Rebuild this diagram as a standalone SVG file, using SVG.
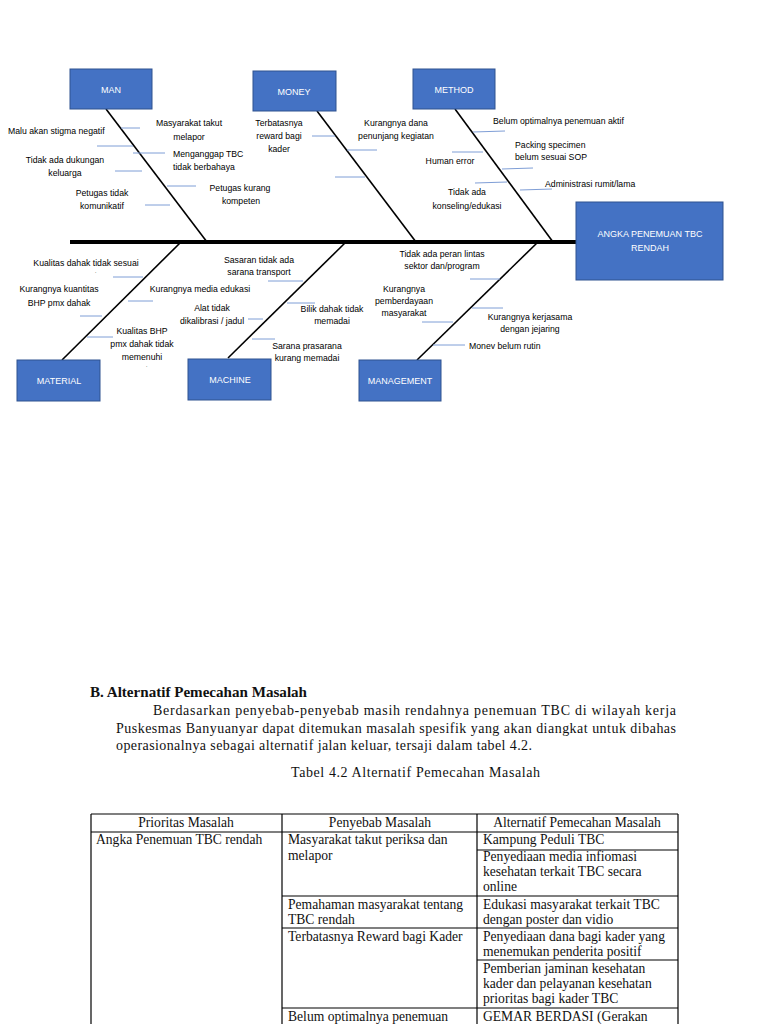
<svg xmlns="http://www.w3.org/2000/svg" width="768" height="1024" viewBox="0 0 768 1024">
<style>
.box{fill:#4472C4;stroke:#2F528F;stroke-width:1}
.bl{font-family:"Liberation Sans",Arial,sans-serif;font-size:9px;fill:#fff;text-anchor:middle}
.c{font-family:"Liberation Sans",Arial,sans-serif;font-size:8.7px;fill:#000}
.m{text-anchor:middle}
.bone{stroke:#000;stroke-width:1.6;fill:none}
.sub{stroke:#7F9ED6;stroke-width:1;fill:none}
.t{font-family:"Liberation Serif","Times New Roman",serif;font-size:14px;fill:#111}
.tb{font-family:"Liberation Serif","Times New Roman",serif;font-size:13.6px;fill:#111}
.g{stroke:#000;stroke-width:1.2;fill:none}
</style>
<rect width="768" height="1024" fill="#fff"/>

<g id="connectors">
<line x1="70" y1="242" x2="577" y2="242" stroke="#000" stroke-width="4"/>
<line class="bone" x1="106" y1="109" x2="207" y2="242"/>
<line class="bone" x1="317" y1="111" x2="416" y2="242"/>
<line class="bone" x1="455" y1="109" x2="553" y2="242"/>
<line class="bone" x1="62" y1="360" x2="181" y2="242"/>
<line class="bone" x1="228" y1="358" x2="346" y2="242"/>
<line class="bone" x1="417" y1="360" x2="538" y2="242"/>
<g id="sub-bones">
<line class="sub" x1="121" y1="128" x2="140" y2="128"/>
<line class="sub" x1="97" y1="146" x2="133" y2="146"/>
<line class="sub" x1="133" y1="153" x2="165" y2="153"/>
<line class="sub" x1="115" y1="171" x2="142" y2="171"/>
<line class="sub" x1="167" y1="186" x2="196" y2="186"/>
<line class="sub" x1="145" y1="205" x2="170" y2="205"/>
<line class="sub" x1="312" y1="136" x2="335" y2="136"/>
<line class="sub" x1="347" y1="150" x2="377" y2="150"/>
<line class="sub" x1="335" y1="177" x2="365" y2="177"/>
<line class="sub" x1="473" y1="132" x2="505" y2="131"/>
<line class="sub" x1="452" y1="152" x2="483" y2="152"/>
<line class="sub" x1="502" y1="169" x2="533" y2="168"/>
<line class="sub" x1="475" y1="183" x2="507" y2="182"/>
<line class="sub" x1="520" y1="190" x2="552" y2="189"/>
<line class="sub" x1="113" y1="277" x2="143" y2="277"/>
<line class="sub" x1="128" y1="301" x2="153" y2="301"/>
<line class="sub" x1="80" y1="316" x2="102" y2="316"/>
<line class="sub" x1="87" y1="337" x2="113" y2="337"/>
<line class="sub" x1="268" y1="281" x2="303" y2="281"/>
<line class="sub" x1="287" y1="303" x2="315" y2="303"/>
<line class="sub" x1="248" y1="319" x2="263" y2="319"/>
<line class="sub" x1="252" y1="339" x2="275" y2="339"/>
<line class="sub" x1="470" y1="279" x2="500" y2="279"/>
<line class="sub" x1="472" y1="308" x2="503" y2="308"/>
<line class="sub" x1="422" y1="322" x2="453" y2="322"/>
<line class="sub" x1="433" y1="345" x2="465" y2="345"/>
</g>
</g>

<g id="man"><rect class="box" x="70" y="69" width="82" height="40"/><text class="bl" x="111" y="93">MAN</text></g>
<g id="money"><rect class="box" x="253" y="71" width="83" height="40"/><text class="bl" x="294" y="95">MONEY</text></g>
<g id="method"><rect class="box" x="413" y="69" width="82" height="40"/><text class="bl" x="454" y="93">METHOD</text></g>
<g id="effect"><rect class="box" x="576" y="202" width="147" height="78"/><text class="bl" x="650" y="237">ANGKA PENEMUAN TBC</text><text class="bl" x="650" y="251">RENDAH</text></g>
<g id="material"><rect class="box" x="17" y="360" width="83" height="41"/><text class="bl" x="59" y="384">MATERIAL</text></g>
<g id="machine"><rect class="box" x="188" y="359" width="83" height="41"/><text class="bl" x="230" y="383">MACHINE</text></g>
<g id="management"><rect class="box" x="359" y="360" width="82" height="41"/><text class="bl" x="400" y="384">MANAGEMENT</text></g>

<g id="causes-man" class="c">
<text x="8" y="134">Malu akan stigma negatif</text>
<text class="m" x="189" y="126">Masyarakat takut</text>
<text class="m" x="189" y="140">melapor</text>
<text x="173" y="157">Menganggap TBC</text>
<text x="173" y="170">tidak berbahaya</text>
<text class="m" x="65" y="163">Tidak ada dukungan</text>
<text class="m" x="65" y="176">keluarga</text>
<text class="m" x="102" y="196">Petugas tidak</text>
<text class="m" x="102" y="209">komunikatif</text>
<text class="m" x="240" y="191">Petugas kurang</text>
<text class="m" x="241" y="204">kompeten</text>
</g>
<g id="causes-money" class="c">
<text class="m" x="279" y="126">Terbatasnya</text>
<text class="m" x="279" y="139">reward bagi</text>
<text class="m" x="279" y="152">kader</text>
<text class="m" x="396" y="126">Kurangnya dana</text>
<text class="m" x="396" y="139">penunjang kegiatan</text>
</g>
<g id="causes-method" class="c">
<text x="493" y="124">Belum optimalnya penemuan aktif</text>
<text x="515" y="148">Packing specimen</text>
<text x="515" y="160">belum sesuai SOP</text>
<text class="m" x="450" y="164">Human error</text>
<text x="545" y="187">Administrasi rumit/lama</text>
<text class="m" x="467" y="195">Tidak ada</text>
<text class="m" x="467" y="209">konseling/edukasi</text>
</g>
<g id="causes-material" class="c">
<text class="m" x="86" y="266">Kualitas dahak tidak sesuai</text>
<text x="95" y="273" font-size="5">.</text>
<text class="m" x="59" y="292">Kurangnya kuantitas</text>
<text class="m" x="59" y="306">BHP pmx dahak</text>
<text class="m" x="200" y="292">Kurangnya media edukasi</text>
<text class="m" x="142" y="334">Kualitas BHP</text>
<text class="m" x="142" y="347">pmx dahak tidak</text>
<text class="m" x="142" y="360">memenuhi</text>
<text x="146" y="367" font-size="5">.</text>
</g>
<g id="causes-machine" class="c">
<text class="m" x="259" y="263">Sasaran tidak ada</text>
<text class="m" x="259" y="275">sarana transport</text>
<text class="m" x="212" y="311">Alat tidak</text>
<text class="m" x="212" y="324">dikalibrasi / jadul</text>
<text class="m" x="332" y="312">Bilik dahak tidak</text>
<text class="m" x="332" y="324">memadai</text>
<text class="m" x="307" y="349">Sarana prasarana</text>
<text class="m" x="307" y="361">kurang memadai</text>
</g>
<g id="causes-management" class="c">
<text class="m" x="442" y="257">Tidak ada peran lintas</text>
<text class="m" x="442" y="269">sektor dan/program</text>
<text class="m" x="404" y="292">Kurangnya</text>
<text class="m" x="404" y="304">pemberdayaan</text>
<text class="m" x="404" y="316">masyarakat</text>
<text class="m" x="530" y="320">Kurangnya kerjasama</text>
<text class="m" x="530" y="332">dengan jejaring</text>
<text x="469" y="349">Monev belum rutin</text>
</g>

<g id="section-b">
<text class="t" x="90" y="697" font-weight="bold" textLength="217" lengthAdjust="spacingAndGlyphs">B. Alternatif Pemecahan Masalah</text>
<text class="t" x="153" y="715" textLength="523" lengthAdjust="spacing">Berdasarkan penyebab-penyebab masih rendahnya penemuan TBC di wilayah kerja</text>
<text class="t" x="116" y="733" textLength="560" lengthAdjust="spacing">Puskesmas Banyuanyar dapat ditemukan masalah spesifik yang akan diangkat untuk dibahas</text>
<text class="t" x="116" y="750" textLength="416" lengthAdjust="spacing">operasionalnya sebagai alternatif jalan keluar, tersaji dalam tabel 4.2.</text>
<text class="t" x="291" y="777" textLength="249" lengthAdjust="spacing">Tabel 4.2 Alternatif Pemecahan Masalah</text>
</g>

<g id="table">
<g class="g">
<line x1="91" y1="814" x2="678" y2="814"/>
<line x1="91" y1="832" x2="678" y2="832"/>
<line x1="477" y1="850" x2="678" y2="850"/>
<line x1="282" y1="896" x2="678" y2="896"/>
<line x1="282" y1="928" x2="678" y2="928"/>
<line x1="477" y1="960" x2="678" y2="960"/>
<line x1="282" y1="1008" x2="678" y2="1008"/>
<line x1="91" y1="814" x2="91" y2="1024"/>
<line x1="282" y1="814" x2="282" y2="1024"/>
<line x1="477" y1="814" x2="477" y2="1024"/>
<line x1="678" y1="814" x2="678" y2="1024"/>
</g>
<g class="tb">
<text x="186" y="827" text-anchor="middle">Prioritas Masalah</text>
<text x="380" y="827" text-anchor="middle">Penyebab Masalah</text>
<text x="577" y="827" text-anchor="middle">Alternatif Pemecahan Masalah</text>
<text x="96" y="844">Angka Penemuan TBC rendah</text>
<text x="288" y="844">Masyarakat takut periksa dan</text>
<text x="288" y="860">melapor</text>
<text x="483" y="844">Kampung Peduli TBC</text>
<text x="483" y="861">Penyediaan media infiomasi</text>
<text x="483" y="876">kesehatan terkait TBC secara</text>
<text x="483" y="891">online</text>
<text x="288" y="909">Pemahaman masyarakat tentang</text>
<text x="288" y="924">TBC rendah</text>
<text x="483" y="909">Edukasi masyarakat terkait TBC</text>
<text x="483" y="924">dengan poster dan vidio</text>
<text x="288" y="941">Terbatasnya Reward bagi Kader</text>
<text x="483" y="941">Penyediaan dana bagi kader yang</text>
<text x="483" y="956">menemukan penderita positif</text>
<text x="483" y="973">Pemberian jaminan kesehatan</text>
<text x="483" y="988">kader dan pelayanan kesehatan</text>
<text x="483" y="1003">prioritas bagi kader TBC</text>
<text x="288" y="1021">Belum optimalnya penemuan</text>
<text x="483" y="1021">GEMAR BERDASI (Gerakan</text>
</g>
</g>
</svg>
